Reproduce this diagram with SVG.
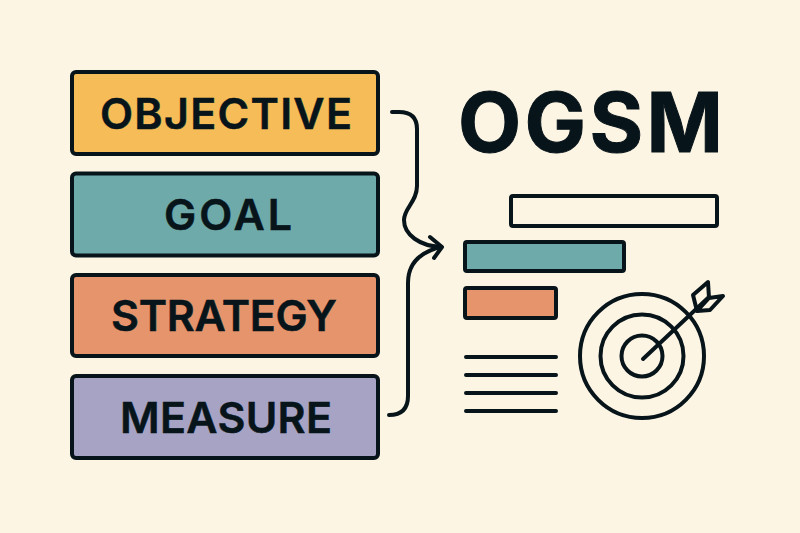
<svg xmlns="http://www.w3.org/2000/svg" width="800" height="533" viewBox="0 0 800 533">
<style>
.box{stroke:#07141a;stroke-width:4}
.lbl{font-family:Inter,"Liberation Sans",sans-serif;font-weight:600;font-size:43px;fill:#07141a;stroke:#07141a;stroke-width:.5}
.ln{fill:none;stroke:#07141a;stroke-linecap:round;stroke-linejoin:round;stroke-width:4}
</style>
<rect width="800" height="533" fill="#fdf5e4"/>
<g id="objective"><rect class="box" x="72" y="72" width="306" height="82" rx="4" fill="#f5bc57"/><text class="lbl" x="100" y="129" textLength="252" lengthAdjust="spacing">OBJECTIVE</text></g>
<g id="goal"><rect class="box" x="72" y="173.500" width="306" height="82" rx="4" fill="#6eaaaa"/><text class="lbl" x="164" y="230" textLength="128" lengthAdjust="spacing">GOAL</text></g>
<g id="strategy"><rect class="box" x="72" y="275" width="306" height="81" rx="4" fill="#e5946c"/><text class="lbl" x="111" y="331" textLength="226" lengthAdjust="spacing">STRATEGY</text></g>
<g id="measure"><rect class="box" x="72" y="376" width="306" height="82" rx="4" fill="#a6a3c4"/><text class="lbl" x="120" y="433" textLength="212" lengthAdjust="spacing">MEASURE</text></g>
<g id="connectors">
<path class="ln" d="M392 112H399Q417 112 417 129V186C417 202 404 208 404 220C404 235 420 246 441 247"/>
<path class="ln" d="M389 415C401 415 408 409 408 396V283C408 264 420 252 441 247"/>
<path class="ln" d="M430 237L442 247L434 258"/>
</g>
<g id="title"><text x="458" y="152" textLength="265" lengthAdjust="spacing" font-family="Inter,'Liberation Sans',sans-serif" font-weight="700" font-size="82" fill="#07141a" stroke="#07141a" stroke-width="1">OGSM</text></g>
<g id="bars">
<rect class="box" x="511" y="196" width="206" height="30" rx="2" fill="#fdf5e4"/>
<rect class="box" x="465" y="242" width="159" height="29" rx="2" fill="#6eaaaa"/>
<rect class="box" x="465" y="288" width="91" height="30" rx="2" fill="#e5946c"/>
</g>
<g id="lines">
<path class="ln" d="M466 357H556M466 375H556M466 393H556M466 411H556"/>
</g>
<g id="target">
<circle class="ln" cx="642" cy="356" r="62"/>
<circle class="ln" cx="642" cy="356" r="41.500"/>
<circle class="ln" cx="642" cy="356" r="20.500"/>
<path class="ln" d="M643 359L709 297"/>
<path class="ln" d="M693 295L708 282L709 298L697 311ZM709 298L723 296L710 310L697 311Z"/>
</g>
</svg>
